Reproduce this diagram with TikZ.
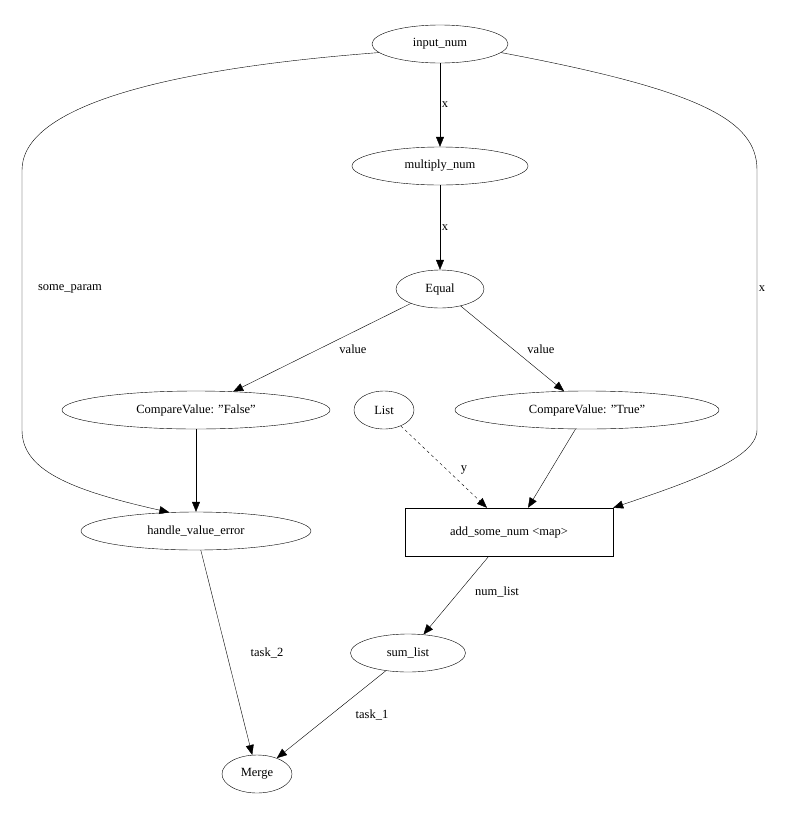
\documentclass[tikz,border=0pt]{standalone}
\usepackage{fontspec}
\setmainfont{Liberation Serif}
\usetikzlibrary{arrows.meta,shapes.geometric,calc}
\begin{document}
\begin{tikzpicture}[x=1pt,y=-1pt,
  el/.style={draw,ellipse,inner sep=0pt,minimum height=38pt},
  bx/.style={draw,rectangle,minimum width=208pt,minimum height=48pt},
  ed/.style={draw,-{Triangle[length=10pt,width=8pt]}},
  lb/.style={font=\fontsize{12.5}{14}\selectfont},
  every node/.append style={font=\fontsize{12.5}{14}\selectfont}]
\useasboundingbox (0,0) rectangle (787,825);
\node[el,minimum width=136pt] (in) at (440,44) {input\_num};
\node[el,minimum width=176pt] (mul) at (440,166) {multiply\_num};
\node[el,minimum width=88pt] (eq) at (440,289) {Equal};
\node[el,minimum width=268pt] (cf) at (196,410) {CompareValue: "False"};
\node[el,minimum width=60pt] (li) at (384,410) {List};
\node[el,minimum width=264pt] (ct) at (587,410) {CompareValue: "True"};
\node[el,minimum width=230pt] (hv) at (196,531) {handle\_value\_error};
\node[bx] (add) at (509,532) {add\_some\_num <map>};
\node[el,minimum width=115pt] (sl) at (408,653) {sum\_list};
\node[el,minimum width=70pt] (mg) at (257,774) {Merge};
\draw[ed] (in) -- (mul);
\node[lb] (l1) at (445,105) {x};
\draw[ed] (mul) -- (eq);
\node[lb] (l2) at (445,228) {x};
\draw[ed] (in.188) .. controls (150,70) and (22,110) .. (22,170) -- (22,430)
  .. controls (22,470) and (70,490) .. (hv.145);
\node[lb] (sp) at (70,289) {some\_param};
\draw[ed] (in.-8) .. controls (700,90) and (757,120) .. (757,170) -- (757,430)
  .. controls (757,460) and (680,485) .. (add.north east);
\node[lb] (xr) at (762,289) {x};
\draw[ed] (eq) -- (cf);
\node[lb] (l3) at (353,349) {value};
\draw[ed] (eq) -- (ct);
\node[lb] (l4) at (541,349) {value};
\draw[ed] (cf) -- (hv);
\coordinate (a1) at ($(add.north)+(-22,0)$);
\coordinate (a2) at ($(add.north)+(19,0)$);
\draw[ed,dashed] (li) -- (a1);
\node[lb] (l5) at (464,470) {y};
\draw[ed] (ct) -- (a2);
\draw[ed] (add) -- (sl);
\node[lb] (l6) at (497,592) {num\_list};
\draw[ed] (hv) -- (mg);
\node[lb] (l7) at (267,653) {task\_2};
\draw[ed] (sl) -- (mg);
\node[lb] (l8) at (372,715) {task\_1};
\end{tikzpicture}
\end{document}
